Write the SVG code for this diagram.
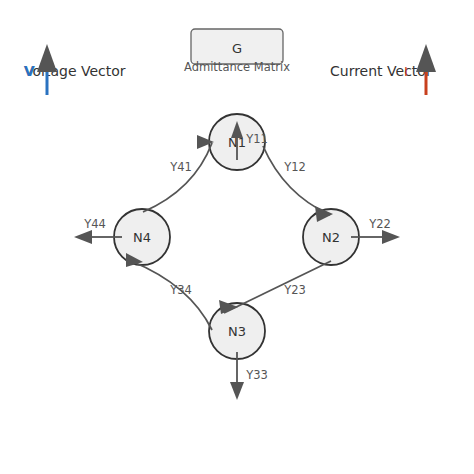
<svg xmlns="http://www.w3.org/2000/svg" width="474" height="474" viewBox="0 0 474 474">
<style>
.node{fill:#efefef;stroke:#333;stroke-width:1.8}
.nl{font-family:"DejaVu Sans",sans-serif;font-size:13px;fill:#333;text-anchor:middle}
.el{font-family:"DejaVu Sans",sans-serif;font-size:11.5px;fill:#555;text-anchor:middle}
.cn{fill:none;stroke:#555;stroke-width:1.8}
.ah{fill:#555;stroke:none}
.big{font-family:"DejaVu Sans",sans-serif;font-size:14px;fill:#333}
</style>
<rect width="474" height="474" fill="#fff"/>
<g id="matrix">
<rect x="191" y="29" width="92" height="35" rx="4" fill="#f0f0f0" stroke="#666" stroke-width="1.3"/>
<text class="nl" x="237" y="53" font-size="14">G</text>
<text class="el" x="237" y="71">Admittance Matrix</text>
</g>
<g id="voltage">
<text class="big" x="24" y="76">Voltage Vector</text>
<text x="24" y="76" font-family="DejaVu Sans,sans-serif" font-size="14" font-weight="bold" fill="#2a72c0">V</text>
<line x1="47" y1="95" x2="47" y2="70" stroke="#2a72c0" stroke-width="3"/>
<polygon class="ah" points="47,44 37,72 57,72"/>
</g>
<g id="current">
<text class="big" x="330" y="76">Current Vector</text>
<text x="406" y="76" font-family="DejaVu Sans,sans-serif" font-size="13" fill="#c8401e" text-anchor="middle">I</text>
<line x1="426" y1="95" x2="426" y2="70" stroke="#c8401e" stroke-width="3"/>
<polygon class="ah" points="426,44 416,72 436,72"/>
</g>
<g id="N1"><circle class="node" cx="237" cy="142" r="28"/><text class="nl" x="237" y="147">N1</text></g>
<g id="N2"><circle class="node" cx="331" cy="237" r="28"/><text class="nl" x="331" y="242">N2</text></g>
<g id="N3"><circle class="node" cx="237" cy="331" r="28"/><text class="nl" x="237" y="336">N3</text></g>
<g id="N4"><circle class="node" cx="142" cy="237" r="28"/><text class="nl" x="142" y="242">N4</text></g>
<g id="connectors">
<path class="cn" d="M263,146 Q284,194 330,215"/>
<polygon class="ah" points="333,214 315,206 317,222"/>
<path class="cn" d="M143,212 Q194,190 212,143"/>
<polygon class="ah" points="214,142 197,135 197,149"/>
<path class="cn" d="M331,261 L224,313"/>
<polygon class="ah" points="238,307 219,300 221,314"/>
<path class="cn" d="M212,330 Q190,285 131,261"/>
<polygon class="ah" points="143,262 126,253 126,267"/>
<line class="cn" x1="237" y1="160" x2="237" y2="136"/>
<polygon class="ah" points="237,121 231,138 243,138"/>
<line class="cn" x1="351" y1="237" x2="383" y2="237"/>
<polygon class="ah" points="400,237 382,230 382,244"/>
<line class="cn" x1="237" y1="352" x2="237" y2="383"/>
<polygon class="ah" points="237,400 230,382 244,382"/>
<line class="cn" x1="122" y1="237" x2="91" y2="237"/>
<polygon class="ah" points="74,237 92,230 92,244"/>
<text class="el" x="257" y="143">Y11</text>
<text class="el" x="295" y="171">Y12</text>
<text class="el" x="181" y="171">Y41</text>
<text class="el" x="295" y="294">Y23</text>
<text class="el" x="181" y="294">Y34</text>
<text class="el" x="380" y="228">Y22</text>
<text class="el" x="95" y="228">Y44</text>
<text class="el" x="257" y="379">Y33</text>
</g>
</svg>
